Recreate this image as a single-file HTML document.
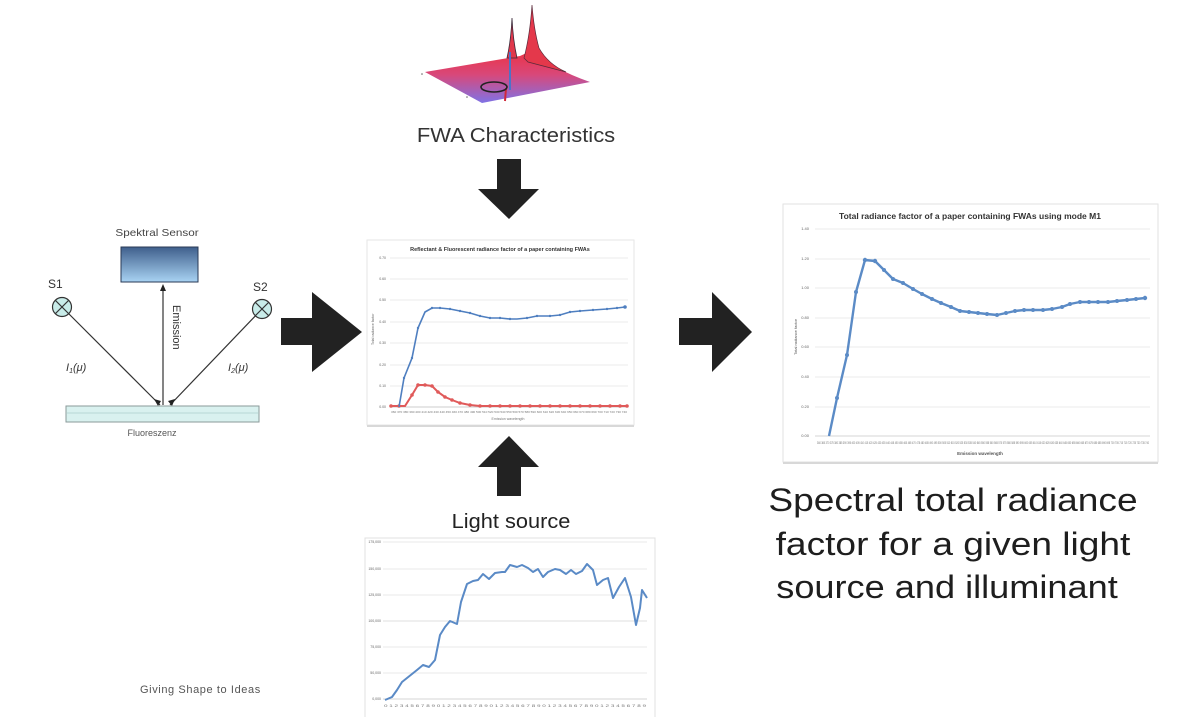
<!DOCTYPE html>
<html>
<head>
<meta charset="utf-8">
<style>
html,body{margin:0;padding:0;background:#fff;}
body{width:1200px;height:717px;overflow:hidden;}
svg{display:block;}
text{font-family:"Liberation Sans",Arial,sans-serif;}
</style>
</head>
<body>
<svg width="1200" height="717" viewBox="0 0 1200 717" xmlns="http://www.w3.org/2000/svg">
<defs>
  <linearGradient id="plane" x1="0" y1="0" x2="0" y2="1">
    <stop offset="0" stop-color="#ec3346"/>
    <stop offset="0.45" stop-color="#d8487a"/>
    <stop offset="1" stop-color="#7f72e6"/>
  </linearGradient>
  <linearGradient id="sensor" x1="0" y1="0" x2="0" y2="1">
    <stop offset="0" stop-color="#3f5f8c"/>
    <stop offset="1" stop-color="#a9d3f3"/>
  </linearGradient>
</defs>
<rect width="1200" height="717" fill="#fff"/>

<!-- 3D FWA plot -->
<path d="M425,72 L520,56 Q532,50 538,52 Q550,68 590,82 L482,103 Z" fill="url(#plane)"/>
<path d="M524,58 Q530,35 532,5 Q534,30 539,48 Q548,64 566,72 L528,62 Z" fill="#e4384b" stroke="#5a2a3a" stroke-width="0.7"/>
<path d="M507,58 Q511,40 512,18 Q513,40 517,58 Z" fill="#e0384c" stroke="#3a2a3a" stroke-width="0.8"/>
<line x1="510" y1="52" x2="510" y2="90" stroke="#4b73c8" stroke-width="2"/>
<line x1="506" y1="88" x2="505" y2="101" stroke="#d0283a" stroke-width="2"/>
<ellipse cx="494" cy="87" rx="13" ry="5" fill="none" stroke="#222" stroke-width="1.6"/>
<circle cx="422" cy="74" r="0.8" fill="#666"/>
<circle cx="467" cy="97" r="0.8" fill="#666"/>

<text transform="translate(516,142) scale(1.1,1)" font-size="20" fill="#333" text-anchor="middle">FWA Characteristics</text>

<!-- Arrows -->
<g fill="#222">
  <polygon points="497,159 521,159 521,189 539,189 509,219 478,189 497,189"/>
  <polygon points="509,436 539,467 521,467 521,496 497,496 497,467 478,467"/>
  <polygon points="281,318 312,318 312,292 362,332 312,372 312,345 281,345"/>
  <polygon points="679,318 712,318 712,292 752,332 712,372 712,345 679,345"/>
</g>

<!-- Left diagram -->
<text transform="translate(157,236) scale(1.17,1)" font-size="10" fill="#444" text-anchor="middle">Spektral Sensor</text>
<rect x="121" y="247" width="77" height="35" fill="url(#sensor)" stroke="#2a3a55" stroke-width="1"/>
<text x="48" y="288" font-size="12" fill="#333">S1</text>
<text x="253" y="291" font-size="12" fill="#333">S2</text>
<line x1="62" y1="307" x2="160" y2="405" stroke="#333" stroke-width="1.2"/>
<line x1="262" y1="309" x2="170" y2="405" stroke="#333" stroke-width="1.2"/>
<line x1="163" y1="405" x2="163" y2="290" stroke="#333" stroke-width="1.2"/>
<polygon points="163,284 160,291 166,291" fill="#222"/>
<polygon points="158,406 154,399 161,401" fill="#222"/>
<polygon points="172,406 168,401 175,399" fill="#222"/>
<g stroke="#333" stroke-width="1.2" fill="#c8ece9">
  <circle cx="62" cy="307" r="9.5"/>
  <circle cx="262" cy="309" r="9.5"/>
</g>
<g stroke="#333" stroke-width="1.2">
  <line x1="55.5" y1="300.5" x2="68.5" y2="313.5"/>
  <line x1="68.5" y1="300.5" x2="55.5" y2="313.5"/>
  <line x1="255.5" y1="302.5" x2="268.5" y2="315.5"/>
  <line x1="268.5" y1="302.5" x2="255.5" y2="315.5"/>
</g>
<text x="0" y="0" font-size="11" fill="#333" transform="translate(173,305) rotate(90)">Emission</text>
<text x="66" y="371" font-size="11" fill="#333" font-style="italic">I<tspan font-size="7" dy="2">1</tspan><tspan dy="-2">(μ)</tspan></text>
<text x="228" y="371" font-size="11" fill="#333" font-style="italic">I<tspan font-size="7" dy="2">2</tspan><tspan dy="-2">(μ)</tspan></text>
<rect x="66" y="406" width="193" height="16" fill="#d9f1ef" stroke="#8a9a9a" stroke-width="1"/>
<line x1="67" y1="413" x2="258" y2="413" stroke="#b8d8d6" stroke-width="1"/>
<text x="152" y="436" font-size="9" fill="#555" text-anchor="middle">Fluoreszenz</text>

<text x="140" y="693" font-size="11" fill="#555" font-family="Liberation Serif,serif" letter-spacing="0.6">Giving Shape to Ideas</text>

<!-- Middle chart -->
<rect x="367" y="240" width="267" height="185" fill="#fff" stroke="#e6e6e6" stroke-width="1"/>
<line x1="367" y1="426" x2="634" y2="426" stroke="#d8d8d8" stroke-width="2"/>
<text x="500" y="251" font-size="5.5" fill="#333" text-anchor="middle" font-weight="bold">Reflectant &amp; Fluorescent radiance factor of a paper containing FWAs</text>
<g stroke="#e4e4e4" stroke-width="0.8">
  <line x1="390" y1="258" x2="628" y2="258"/>
  <line x1="390" y1="279" x2="628" y2="279"/>
  <line x1="390" y1="300" x2="628" y2="300"/>
  <line x1="390" y1="322" x2="628" y2="322"/>
  <line x1="390" y1="343" x2="628" y2="343"/>
  <line x1="390" y1="365" x2="628" y2="365"/>
  <line x1="390" y1="386" x2="628" y2="386"/>
</g>
<line x1="390" y1="407" x2="628" y2="407" stroke="#bbb" stroke-width="0.8"/>
<g font-size="3.5" fill="#666" text-anchor="end">
  <text x="386" y="259">0.70</text><text x="386" y="280">0.60</text><text x="386" y="301">0.50</text>
  <text x="386" y="323">0.40</text><text x="386" y="344">0.30</text><text x="386" y="366">0.20</text>
  <text x="386" y="387">0.10</text><text x="386" y="408">0.00</text>
</g>
<text x="0" y="0" font-size="3.5" fill="#666" transform="translate(374,345) rotate(-90)">Total radiance factor</text>
<text x="391" y="413" font-size="3" fill="#777" textLength="236" lengthAdjust="spacingAndGlyphs">360 370 380 390 400 410 420 430 440 450 460 470 480 490 500 510 520 530 540 550 560 570 580 590 600 610 620 630 640 650 660 670 680 690 700 710 720 730 740</text>
<text x="508" y="420" font-size="3.5" fill="#777" text-anchor="middle">Emission wavelength</text>
<polyline fill="none" stroke="#e05a5a" stroke-width="2" points="391,406 399,406 405,406 412,395 418,385 425,385 432,386 438,392 445,397 452,400 460,403 470,405 480,406 627,406"/>
<g fill="#e05a5a">
  <circle cx="391" cy="406" r="1.8"/><circle cx="399" cy="406" r="1.8"/><circle cx="412" cy="395" r="1.8"/>
  <circle cx="418" cy="385" r="1.8"/><circle cx="425" cy="385" r="1.8"/><circle cx="432" cy="386" r="1.8"/>
  <circle cx="438" cy="392" r="1.8"/><circle cx="445" cy="397" r="1.8"/><circle cx="452" cy="400" r="1.8"/>
  <circle cx="460" cy="403" r="1.8"/><circle cx="470" cy="405" r="1.8"/><circle cx="480" cy="406" r="1.8"/>
  <circle cx="490" cy="406" r="1.8"/><circle cx="500" cy="406" r="1.8"/><circle cx="510" cy="406" r="1.8"/>
  <circle cx="520" cy="406" r="1.8"/><circle cx="530" cy="406" r="1.8"/><circle cx="540" cy="406" r="1.8"/>
  <circle cx="550" cy="406" r="1.8"/><circle cx="560" cy="406" r="1.8"/><circle cx="570" cy="406" r="1.8"/>
  <circle cx="580" cy="406" r="1.8"/><circle cx="590" cy="406" r="1.8"/><circle cx="600" cy="406" r="1.8"/>
  <circle cx="610" cy="406" r="1.8"/><circle cx="620" cy="406" r="1.8"/><circle cx="627" cy="406" r="1.8"/>
</g>
<polyline fill="none" stroke="#4f7fc0" stroke-width="1.6" points="399,407 404,378 412,358 418,328 425,312 432,308 440,308 450,309 460,311 470,313 480,316 490,318 500,318 510,319 517,319 527,318 537,316 550,316 560,315 570,312 580,311 593,310 607,309 617,308 625,307"/>
<g fill="#4f7fc0">
  <circle cx="404" cy="378" r="1.2"/><circle cx="412" cy="358" r="1.2"/><circle cx="418" cy="328" r="1.2"/>
  <circle cx="432" cy="308" r="1.2"/><circle cx="440" cy="308" r="1.2"/><circle cx="450" cy="309" r="1.2"/>
  <circle cx="460" cy="311" r="1.2"/><circle cx="470" cy="313" r="1.2"/><circle cx="480" cy="316" r="1.2"/>
  <circle cx="490" cy="318" r="1.2"/><circle cx="500" cy="318" r="1.2"/><circle cx="510" cy="319" r="1.2"/>
  <circle cx="527" cy="318" r="1.2"/><circle cx="537" cy="316" r="1.2"/><circle cx="550" cy="316" r="1.2"/>
  <circle cx="560" cy="315" r="1.2"/><circle cx="570" cy="312" r="1.2"/><circle cx="580" cy="311" r="1.2"/>
  <circle cx="593" cy="310" r="1.2"/><circle cx="607" cy="309" r="1.2"/><circle cx="617" cy="308" r="1.2"/>
  <circle cx="625" cy="307" r="1.8"/>
</g>

<text transform="translate(511,528) scale(1.09,1)" font-size="20" fill="#222" text-anchor="middle">Light source</text>

<!-- Bottom chart -->
<rect x="365" y="538" width="290" height="190" fill="#fff" stroke="#e0e0e0" stroke-width="1"/>
<g stroke="#e2e2e2" stroke-width="0.8">
  <line x1="383" y1="542" x2="647" y2="542"/>
  <line x1="383" y1="569" x2="647" y2="569"/>
  <line x1="383" y1="595" x2="647" y2="595"/>
  <line x1="383" y1="621" x2="647" y2="621" stroke="#d4d4d4"/>
  <line x1="383" y1="647" x2="647" y2="647"/>
  <line x1="383" y1="673" x2="647" y2="673"/>
</g>
<line x1="383" y1="699" x2="647" y2="699" stroke="#c8c8c8" stroke-width="0.8"/>
<g font-size="3.5" fill="#666" text-anchor="end">
  <text x="381" y="543">175,000</text><text x="381" y="570">150,000</text><text x="381" y="596">125,000</text>
  <text x="381" y="622">100,000</text><text x="381" y="648">75,000</text><text x="381" y="674">50,000</text>
  <text x="381" y="700">0,000</text>
</g>
<text x="384" y="707" font-size="3.5" fill="#777" textLength="262" lengthAdjust="spacingAndGlyphs">0 1 2 3 4 5 6 7 8 9 0 1 2 3 4 5 6 7 8 9 0 1 2 3 4 5 6 7 8 9 0 1 2 3 4 5 6 7 8 9 0 1 2 3 4 5 6 7 8 9</text>
<polyline fill="none" stroke="#5a8ac6" stroke-width="2" stroke-linejoin="round" points="385,700 392,697 397,690 402,682 407,678 412,674 417,670 423,665 429,667 435,660 440,635 445,627 450,621 457,624 461,602 467,584 473,581 478,580 483,574 489,579 495,573 502,572 505,572 510,565 517,567 522,565 528,568 533,572 538,569 543,577 548,572 555,569 560,570 566,574 571,570 576,574 582,571 587,564 593,570 597,585 603,580 608,578 613,598 619,587 625,578 631,597 636,625 640,608 642,590 647,598"/>

<!-- Right chart -->
<rect x="783" y="204" width="375" height="258" fill="#fff" stroke="#e2e2e2" stroke-width="1"/>
<line x1="783" y1="463" x2="1158" y2="463" stroke="#d8d8d8" stroke-width="2"/>
<text x="970" y="219" font-size="8.5" fill="#333" text-anchor="middle" font-weight="bold" textLength="262" lengthAdjust="spacingAndGlyphs">Total radiance factor of a paper containing FWAs using mode M1</text>
<g stroke="#e4e4e4" stroke-width="0.8">
  <line x1="815" y1="229" x2="1150" y2="229"/>
  <line x1="815" y1="259" x2="1150" y2="259"/>
  <line x1="815" y1="288" x2="1150" y2="288"/>
  <line x1="815" y1="318" x2="1150" y2="318"/>
  <line x1="815" y1="347" x2="1150" y2="347"/>
  <line x1="815" y1="377" x2="1150" y2="377"/>
  <line x1="815" y1="407" x2="1150" y2="407"/>
</g>
<line x1="815" y1="436" x2="1150" y2="436" stroke="#c8c8c8" stroke-width="0.8"/>
<g font-size="4" fill="#666" text-anchor="end">
  <text x="809" y="230">1.40</text><text x="809" y="260">1.20</text><text x="809" y="289">1.00</text>
  <text x="809" y="319">0.80</text><text x="809" y="348">0.60</text><text x="809" y="378">0.40</text>
  <text x="809" y="408">0.20</text><text x="809" y="437">0.00</text>
</g>
<text x="0" y="0" font-size="4" fill="#555" transform="translate(797,355) rotate(-90)">Total radiance factor</text>
<text x="817" y="444" font-size="3.5" fill="#777" textLength="332" lengthAdjust="spacingAndGlyphs">360 365 370 375 380 385 390 395 400 405 410 415 420 425 430 435 440 445 450 455 460 465 470 475 480 485 490 495 500 505 510 515 520 525 530 535 540 545 550 555 560 565 570 575 580 585 590 595 600 605 610 615 620 625 630 635 640 645 650 655 660 665 670 675 680 685 690 695 700 705 710 715 720 725 730 735 740</text>
<text x="980" y="455" font-size="4.5" fill="#555" text-anchor="middle" font-weight="bold">Emission wavelength</text>
<polyline fill="none" stroke="#5b8bc6" stroke-width="2.4" stroke-linejoin="round" points="829,436 837,398 847,355 856,292 865,260 875,261 884,270 893,279 903,283 913,289 922,294 932,299 941,303 951,307 960,311 969,312 978,313 987,314 997,315 1006,313 1015,311 1024,310 1033,310 1043,310 1052,309 1062,307 1070,304 1080,302 1089,302 1098,302 1108,302 1117,301 1127,300 1136,299 1145,298"/>
<g fill="#5b8bc6">
  <circle cx="837" cy="398" r="2"/><circle cx="847" cy="355" r="2"/><circle cx="856" cy="292" r="2"/>
  <circle cx="865" cy="260" r="2.2"/><circle cx="875" cy="261" r="2.2"/><circle cx="884" cy="270" r="2"/>
  <circle cx="893" cy="279" r="2"/><circle cx="903" cy="283" r="2"/><circle cx="913" cy="289" r="2"/>
  <circle cx="922" cy="294" r="2"/><circle cx="932" cy="299" r="2"/><circle cx="941" cy="303" r="2"/>
  <circle cx="951" cy="307" r="2"/><circle cx="960" cy="311" r="2"/><circle cx="969" cy="312" r="2"/>
  <circle cx="978" cy="313" r="2"/><circle cx="987" cy="314" r="2"/><circle cx="997" cy="315" r="2"/>
  <circle cx="1006" cy="313" r="2"/><circle cx="1015" cy="311" r="2"/><circle cx="1024" cy="310" r="2"/>
  <circle cx="1033" cy="310" r="2"/><circle cx="1043" cy="310" r="2"/><circle cx="1052" cy="309" r="2"/>
  <circle cx="1062" cy="307" r="2"/><circle cx="1070" cy="304" r="2"/><circle cx="1080" cy="302" r="2"/>
  <circle cx="1089" cy="302" r="2"/><circle cx="1098" cy="302" r="2"/><circle cx="1108" cy="302" r="2"/>
  <circle cx="1117" cy="301" r="2"/><circle cx="1127" cy="300" r="2"/><circle cx="1136" cy="299" r="2"/>
  <circle cx="1145" cy="298" r="2.2"/>
</g>

<!-- Right caption -->
<g font-size="32" fill="#1e1e1e" text-anchor="middle">
  <text transform="translate(953,511) scale(1.16,1)">Spectral total radiance</text>
  <text transform="translate(953,555) scale(1.16,1)">factor for a given light</text>
  <text transform="translate(947,598) scale(1.13,1)">source and illuminant</text>
</g>
</svg>
</body>
</html>
